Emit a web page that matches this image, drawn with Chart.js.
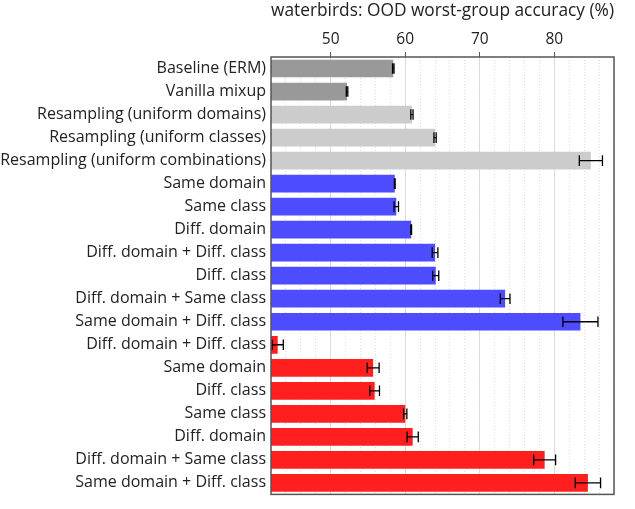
<!DOCTYPE html>
<html>
<head>
<meta charset="utf-8">
<script src="https://cdn.jsdelivr.net/npm/chart.js@4"></script>
<style>
  html, body { margin: 0; padding: 0; background: #fff; }
  #wrap { width: 635px; height: 509px; }
</style>
</head>
<body>
<div id="wrap"><canvas id="chart"></canvas></div>
<script>
// data
const categories = [
  "Baseline (ERM)",
  "Vanilla mixup",
  "Resampling (uniform domains)",
  "Resampling (uniform classes)",
  "Resampling (uniform combinations)",
  "Same domain",
  "Same class",
  "Diff. domain",
  "Diff. domain + Diff. class",
  "Diff. class",
  "Diff. domain + Same class",
  "Same domain + Diff. class",
  "Diff. domain + Diff. class",
  "Same domain",
  "Diff. class",
  "Same class",
  "Diff. domain",
  "Diff. domain + Same class",
  "Same domain + Diff. class"
];
const groups = [
  "baseline", "baseline",
  "resampling", "resampling", "resampling",
  "mixA", "mixA", "mixA", "mixA", "mixA", "mixA", "mixA",
  "mixB", "mixB", "mixB", "mixB", "mixB", "mixB", "mixB"
];
const accuracy = [58.4, 52.2, 60.9, 64.0, 84.9, 58.6, 58.8, 60.8, 64.0, 64.1,
                  73.4, 83.5, 42.9, 55.7, 55.9, 60.0, 61.0, 78.7, 84.5];
const errors = [0.1, 0.1, 0.15, 0.15, 1.55, 0.05, 0.3, 0.05, 0.38, 0.4,
                0.65, 2.35, 0.75, 0.8, 0.65, 0.22, 0.75, 1.47, 1.7];
const xTickValues = [50, 60, 70, 80];
const axisTitle = "waterbirds: OOD worst-group accuracy (%)";

const groupColors = {
  baseline: "#999999",
  resampling: "#cccccc",
  mixA: "#4d4dff",
  mixB: "#ff1f1f"
};

const FONT = "'Open Sans', 'DejaVu Sans', sans-serif";

// error bars + frame around the plot area
const errorBarPlugin = {
  id: "errorBars",
  afterDatasetsDraw(chart) {
    const ctx = chart.ctx;
    const xs = chart.scales.x;
    const meta = chart.getDatasetMeta(0);
    ctx.save();
    ctx.strokeStyle = "#000";
    ctx.lineWidth = 1.3;
    meta.data.forEach((bar, i) => {
      const lo = xs.getPixelForValue(accuracy[i] - errors[i]);
      const hi = xs.getPixelForValue(accuracy[i] + errors[i]);
      const cap = bar.height * 0.3;
      ctx.beginPath();
      ctx.moveTo(lo, bar.y); ctx.lineTo(hi, bar.y);
      ctx.moveTo(lo, bar.y - cap); ctx.lineTo(lo, bar.y + cap);
      ctx.moveTo(hi, bar.y - cap); ctx.lineTo(hi, bar.y + cap);
      ctx.stroke();
    });
    const a = chart.chartArea;
    ctx.strokeStyle = "#555";
    ctx.lineWidth = 1.5;
    ctx.strokeRect(a.left, a.top, a.right - a.left, a.bottom - a.top);
    ctx.restore();
  }
};

new Chart(document.getElementById("chart"), {
  type: "bar",
  data: {
    labels: categories,
    datasets: [{
      data: accuracy,
      backgroundColor: groups.map(g => groupColors[g]),
      borderWidth: 0,
      barPercentage: 0.77,
      categoryPercentage: 1.0
    }]
  },
  options: {
    indexAxis: "y",
    responsive: true,
    maintainAspectRatio: false,
    animation: false,
    layout: { padding: { left: 0, right: 21, top: 0, bottom: 5 } },
    plugins: {
      legend: { display: false },
      tooltip: { enabled: false }
    },
    scales: {
      x: {
        position: "top",
        min: 42,
        max: 88,
        afterBuildTicks: scale => {
          scale.ticks = xTickValues.map(v => ({ value: v }));
        },
        ticks: {
          color: "#222",
          font: { family: FONT, size: 15.5 },
          padding: 3
        },
        grid: {
          color: "#dddddd",
          lineWidth: 1,
          drawTicks: true,
          tickLength: 5,
          tickColor: "#555"
        },
        border: { display: false },
        title: {
          display: true,
          text: axisTitle,
          color: "#222",
          font: { family: FONT, size: 18.5 },
          padding: { top: 0, bottom: 0 }
        },
        afterFit: scale => { scale.height = 57; }
      },
      xMinor: {
        position: "bottom",
        min: 42,
        max: 88,
        ticks: { display: false, stepSize: 2 },
        grid: { color: "#d6d6d6", lineWidth: 0.8, drawTicks: false },
        border: { display: false, dash: [1, 2] },
        afterFit: scale => { scale.height = 0; }
      },
      y: {
        grid: { display: false, drawTicks: false },
        border: { display: false },
        ticks: {
          color: "#222",
          font: { family: FONT, size: 16 },
          padding: 5,
          autoSkip: false
        },
        afterFit: scale => { scale.width = 271; }
      }
    }
  },
  plugins: [errorBarPlugin]
});
</script>
</body>
</html>
